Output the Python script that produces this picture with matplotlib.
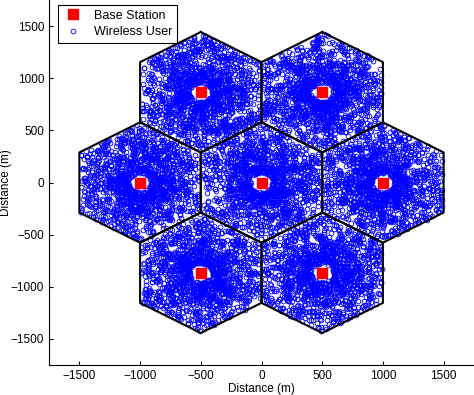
import numpy as np
import matplotlib
matplotlib.use("Agg")
import matplotlib.pyplot as plt

# Cell layout (metres): centre cell plus first tier of six neighbours
bs_x = [0, 1000, 500, -500, -1000, -500, 500]
bs_y = [0, 0, 866, 866, 0, -866, -866]
cell_radius = 577          # hexagon circumradius (pointy-top)
users_per_cell = [1400, 1400, 1400, 1400, 1400, 1400, 1400]
min_user_dist = 90         # empty ring around each base station

xticks = [-1500, -1000, -500, 0, 500, 1000, 1500]
yticks = [-1500, -1000, -500, 0, 500, 1000, 1500]

plt.rcParams["font.family"] = ["Liberation Sans", "DejaVu Sans"]

# The picture shows a simulated drop of users: distance uniform in [min, R],
# angle uniform, kept only if inside the hexagon (denser near the BS).
rng = np.random.default_rng(7)
hex_ang = np.deg2rad(np.arange(90, 451, 60))


def inside_hex(dx, dy, r):
    # pointy-top hexagon: apothem = r*sqrt(3)/2
    a = r * np.sqrt(3) / 2
    ok = np.ones_like(dx, dtype=bool)
    for th in np.deg2rad([0, 60, 120]):
        ok &= np.abs(dx * np.cos(th) + dy * np.sin(th)) <= a
    return ok


ux, uy = [], []
for cx, cy, n in zip(bs_x, bs_y, users_per_cell):
    got = 0
    while got < n:
        d = rng.uniform(min_user_dist, cell_radius, 3 * n)
        t = rng.uniform(0, 2 * np.pi, 3 * n)
        dx, dy = d * np.cos(t), d * np.sin(t)
        keep = inside_hex(dx, dy, cell_radius - 12)
        dx, dy = dx[keep][: n - got], dy[keep][: n - got]
        ux.append(cx + dx)
        uy.append(cy + dy)
        got += len(dx)
ux = np.concatenate(ux)
uy = np.concatenate(uy)

fig = plt.figure(figsize=(4.74, 3.95), dpi=100)
ax = fig.add_axes([49 / 474, 30 / 395, 1 - 49 / 474, 365 / 395])

ax.plot(ux, uy, "o", mfc="none", mec="#0000ff", ms=3.4, mew=0.6,
        label="Wireless User", zorder=2)

for cx, cy in zip(bs_x, bs_y):
    hx = cx + cell_radius * np.cos(hex_ang)
    hy = cy + cell_radius * np.sin(hex_ang)
    ax.plot(hx, hy, color="black", lw=1.5, zorder=3)

ax.plot(bs_x, bs_y, "s", color="#ff0000", ms=7.5, mec="#ff0000",
        label="Base Station", zorder=4, linestyle="none")

ax.set_xlim(-1750, 1750)
ax.set_ylim(-1750, 1750)
ax.set_xticks(xticks)
ax.set_yticks(yticks)
ax.tick_params(direction="in", labelsize=8.5, length=3)
ax.spines["top"].set_visible(False)
ax.spines["right"].set_visible(False)
ax.set_xlabel("Distance (m)", fontsize=8.5, labelpad=1)
ax.set_ylabel("Distance (m)", fontsize=8.5)
ax.yaxis.set_label_coords(-0.087, 0.5)

h, l = ax.get_legend_handles_labels()
leg = ax.legend(h[::-1], l[::-1], loc="upper left", fontsize=9,
                fancybox=False, framealpha=1, edgecolor="black",
                borderaxespad=0, handletextpad=0.8, labelspacing=0.35,
                handlelength=1.8, borderpad=0.35,
                bbox_to_anchor=(0.02, 0.985))
leg.get_frame().set_linewidth(0.8)

fig.savefig("out.png", dpi=100)
